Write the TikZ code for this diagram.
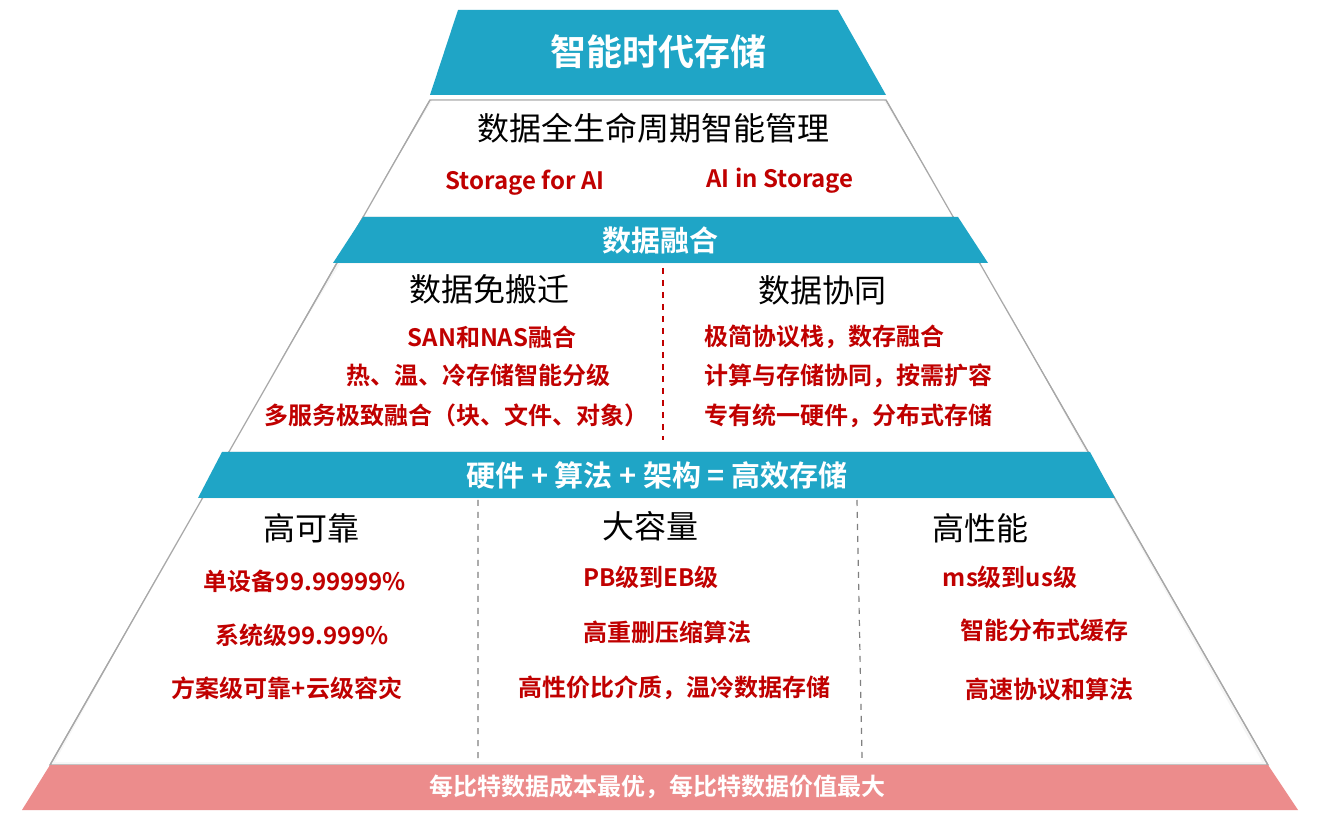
\documentclass[tikz,border=0pt]{standalone}
\usepackage{fontspec}
\setmainfont{Noto Sans CJK SC}
\newfontfamily\bfcjk{Noto Sans CJK SC Bold}
\definecolor{teal1}{HTML}{1FA5C6}
\definecolor{redt}{HTML}{C00000}
\definecolor{pinkb}{HTML}{EC8C8C}
\definecolor{pyr}{HTML}{F6F6F6}
\definecolor{edge}{HTML}{A8A8A8}
\begin{document}
\begin{tikzpicture}[x=0.5pt,y=-0.5pt,
  band/.style={fill=teal1,draw=none},
  btxt/.style={text=white,font=\bfcjk\fontsize{14.5}{16}\selectfont},
  head/.style={text=black,font=\fontsize{16}{18}\selectfont},
  rtxt/.style={text=redt,font=\bfcjk\fontsize{12}{14}\selectfont}]
\useasboundingbox (0,0) rectangle (1318,828);
\fill[white] (0,0) rectangle (1318,828);
% pyramid body
\filldraw[fill=pyr,draw=edge,line width=0.6pt] (430,100) -- (886,100) -- (1268,765) -- (50,765) -- cycle;
\fill[white] (432,101) -- (884,101) -- (955,216) -- (362,216) -- cycle;
\fill[white] (340,264) -- (982,264) -- (1085,451) -- (225,451) -- cycle;
\fill[white] (200,499) -- (1113,499) -- (1262,762) -- (55,762) -- cycle;
\draw[edge,line width=0.6pt] (430,100) -- (50,765) (886,100) -- (1268,765);
% top
\fill[band] (458,10) -- (838,10) -- (886,95) -- (430,95) -- cycle;
\node[btxt,font=\bfcjk\fontsize{18}{20}\selectfont] (t) at (658,52) {智能时代存储};
\node[head] (h1) at (653,128) {数据全生命周期智能管理};
\node[rtxt] (s1) at (525,183) {Storage for AI};
\node[rtxt] (s2) at (780,181) {AI in Storage};
% band 2
\fill[band] (363,217) -- (958,217) -- (988,263) -- (333,263) -- cycle;
\node[btxt] (b2) at (660,240) {数据融合};
\coordinate (d1) at (663,268); \coordinate (d2) at (663,440);
\draw[redt,dashed,line width=0.6pt] (d1) -- (d2);
\node[head] (h2) at (489,289) {数据免搬迁};
\node[head] (h3) at (822,290) {数据协同};
\node[rtxt] (a1) at (492,337) {SAN和NAS融合};
\node[rtxt] (a2) at (478,375) {热、温、冷存储智能分级};
\node[rtxt] (a3) at (456,415) {多服务极致融合（块、文件、对象）};
\node[rtxt,anchor=west] (c1) at (697,337) {极简协议栈，数存融合};
\node[rtxt,anchor=west] (c2) at (697,376) {计算与存储协同，按需扩容};
\node[rtxt,anchor=west] (c3) at (697,416) {专有统一硬件，分布式存储};
% band 3
\fill[band] (222,452) -- (1090,452) -- (1115,498) -- (198,498) -- cycle;
\node[btxt] (b3) at (657,475) {硬件 + 算法 + 架构 = 高效存储};
\coordinate (e1) at (478,500); \coordinate (e2) at (478,758);
\coordinate (f1) at (857,500); \coordinate (f2) at (862,758);
\draw[gray,dashed,line width=0.6pt] (e1) -- (e2) (f1) -- (f2);
\node[head] (k1) at (311,528) {高可靠};
\node[head] (k2) at (650,526) {大容量};
\node[head] (k3) at (980,528) {高性能};
\node[rtxt] (p1) at (305,581) {单设备99.99999\%};
\node[rtxt] (p2) at (302,635) {系统级99.999\%};
\node[rtxt] (p3) at (287,688) {方案级可靠+云级容灾};
\node[rtxt] (q1) at (651,577) {PB级到EB级};
\node[rtxt] (q2) at (667,632) {高重删压缩算法};
\node[rtxt] (q3) at (674,688) {高性价比介质，温冷数据存储};
\node[rtxt] (r1) at (1010,577) {ms级到us级};
\node[rtxt] (r2) at (1044,630) {智能分布式缓存};
\node[rtxt] (r3) at (1049,689) {高速协议和算法};
% bottom
\fill[pinkb] (50,765) -- (1268,765) -- (1298,810) -- (22,810) -- cycle;
\node[text=white,font=\bfcjk\fontsize{12}{14}\selectfont] (bt) at (657,787) {每比特数据成本最优，每比特数据价值最大};
\end{tikzpicture}
\end{document}
